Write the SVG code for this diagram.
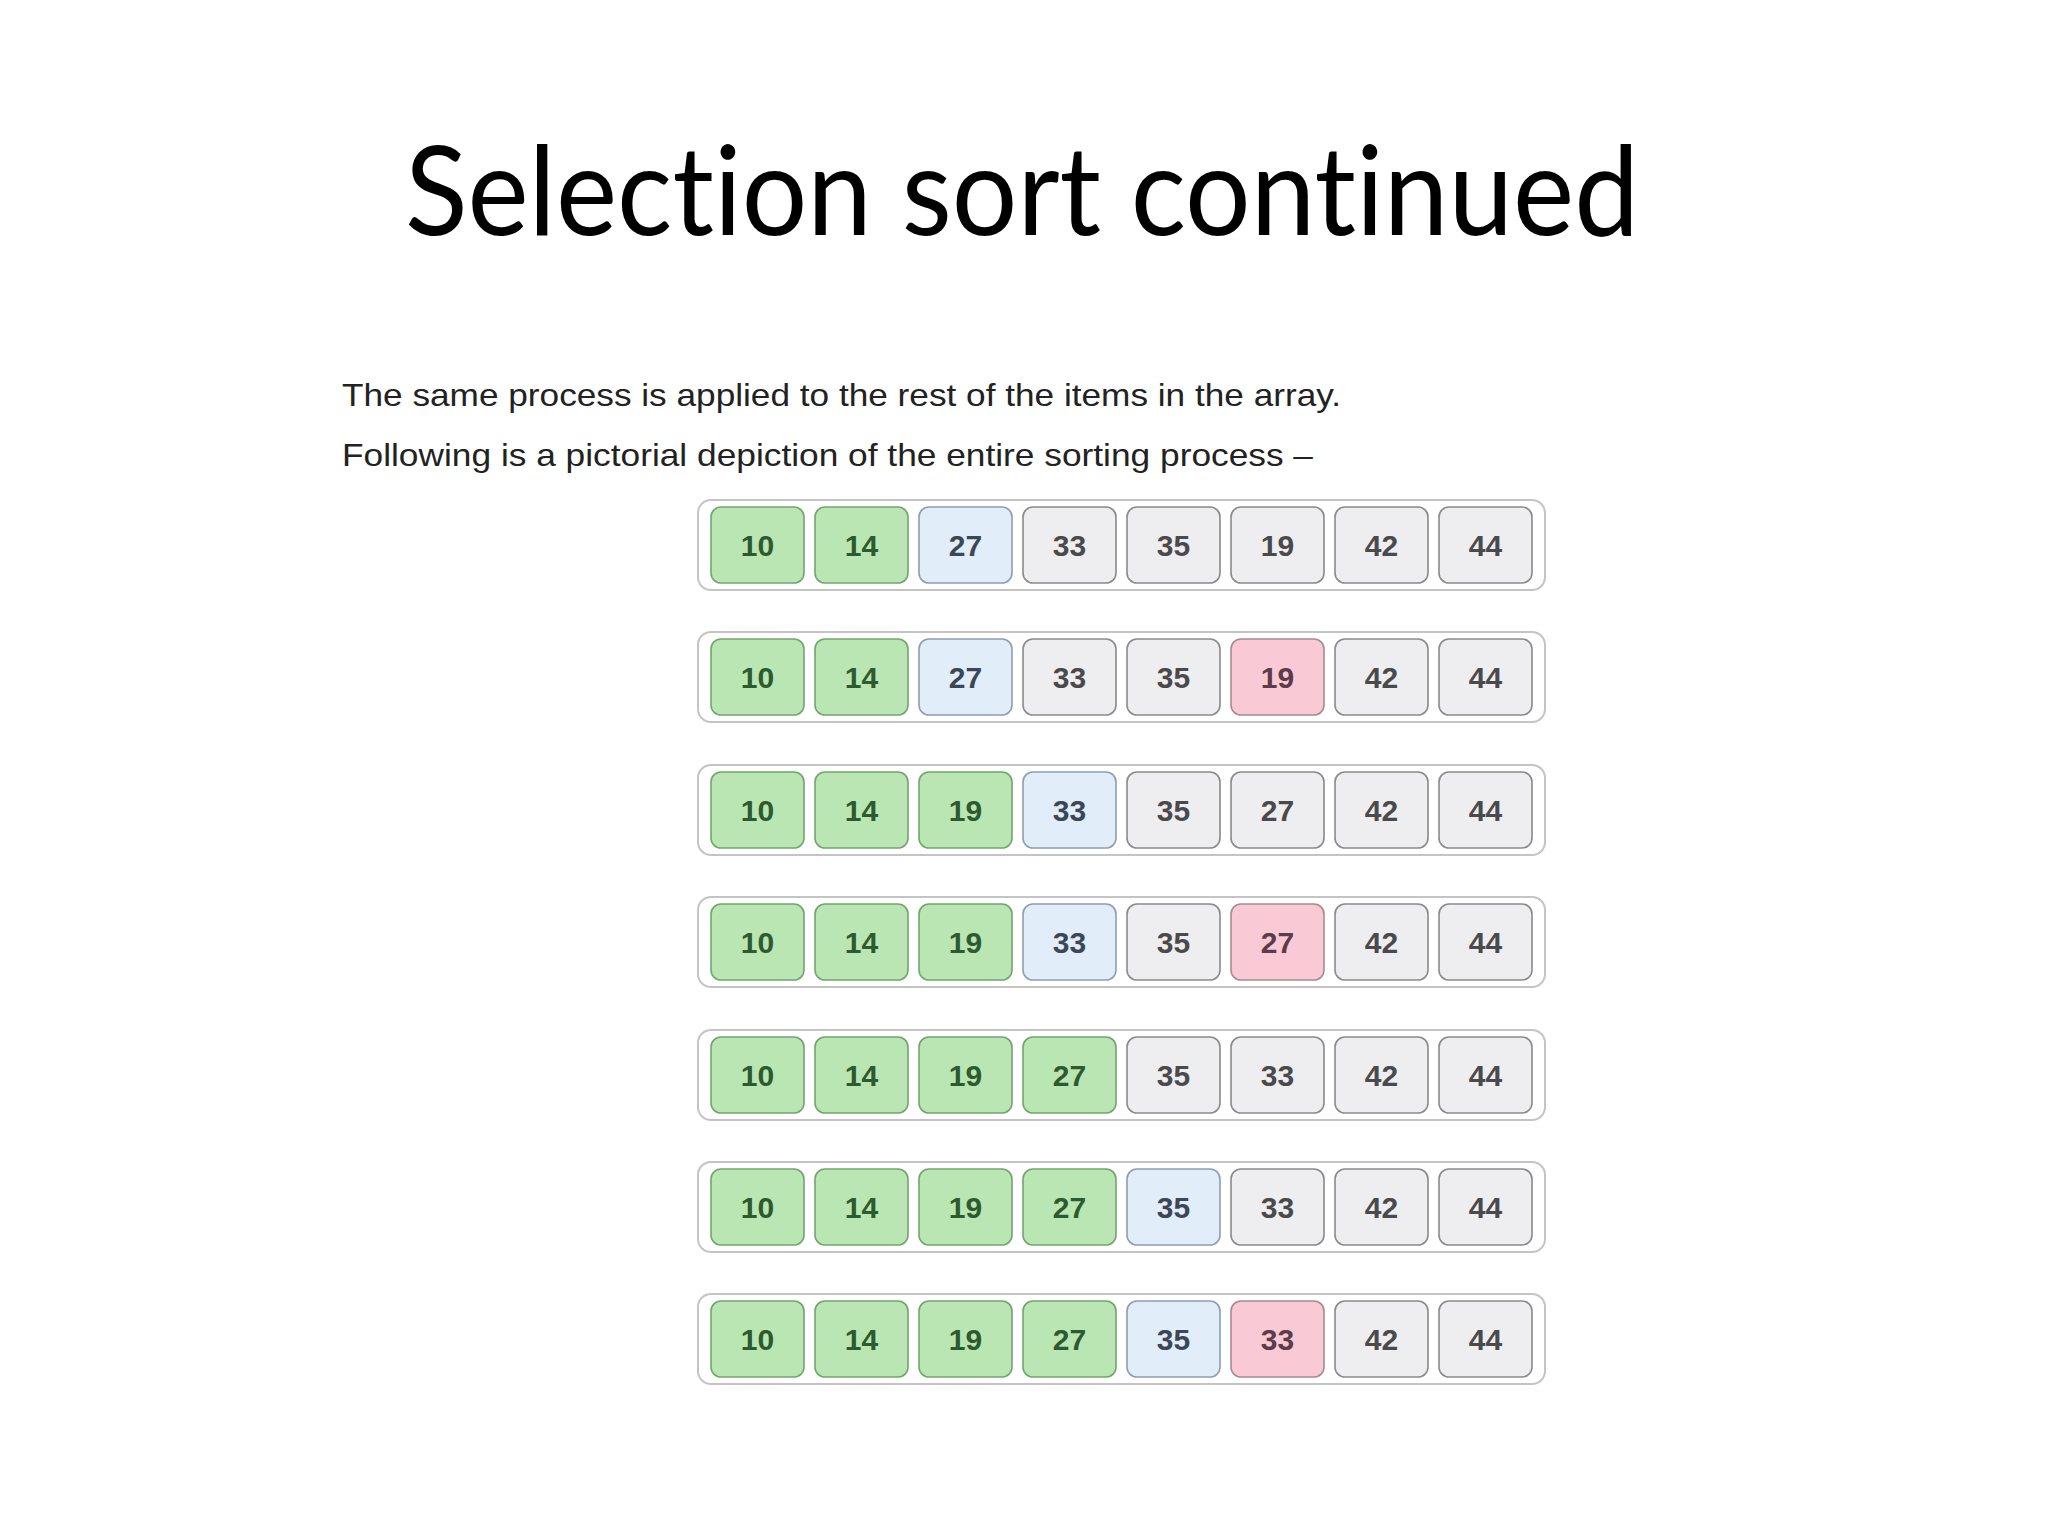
<svg xmlns="http://www.w3.org/2000/svg" width="2048" height="1536" viewBox="0 0 2048 1536">
<style>
.title{font-family:Lato,"Open Sans","Liberation Sans",sans-serif;font-size:124px;fill:#000;font-variant-ligatures:none;font-feature-settings:"liga" 0}
.para{font-family:"Liberation Sans",Arial,sans-serif;font-size:32px;fill:#222}
.row{fill:#fff;stroke:#c4c4c4;stroke-width:2}
.c{stroke-width:1.6}
.g{fill:#b9e6b2;stroke:#74a46f}
.b{fill:#e1edf9;stroke:#8f9db0}
.n{fill:#eeeef0;stroke:#8a8a8a}
.p{fill:#f9c9d5;stroke:#a88a92}
.t{font-family:"Liberation Sans",Arial,sans-serif;font-weight:bold;font-size:30px;text-anchor:middle}
.tg{fill:#2e5a30}
.tb{fill:#3b4756}
.tn{fill:#4a4a4c}
.tp{fill:#5c3c48}
</style>
<rect width="2048" height="1536" fill="#ffffff"/>
<text class="title" x="405" y="235" textLength="1234" lengthAdjust="spacingAndGlyphs">Selection sort continued</text>
<text class="para" x="342" y="406" textLength="999" lengthAdjust="spacingAndGlyphs">The same process is applied to the rest of the items in the array.</text>
<text class="para" x="342" y="466" textLength="971" lengthAdjust="spacingAndGlyphs">Following is a pictorial depiction of the entire sorting process –</text>

<defs>
<g id="rowbox"><rect class="row" x="698" y="0" width="847" height="90" rx="13"/></g>
</defs>

<g id="row1" transform="translate(0,500)">
<use href="#rowbox"/>
<g id="r1c1"><rect class="c g" x="711" y="7" width="93" height="76" rx="10"/><text class="t tg" x="757.5" y="56">10</text></g>
<g id="r1c2"><rect class="c g" x="815" y="7" width="93" height="76" rx="10"/><text class="t tg" x="861.5" y="56">14</text></g>
<g id="r1c3"><rect class="c b" x="919" y="7" width="93" height="76" rx="10"/><text class="t tb" x="965.5" y="56">27</text></g>
<g id="r1c4"><rect class="c n" x="1023" y="7" width="93" height="76" rx="10"/><text class="t tn" x="1069.5" y="56">33</text></g>
<g id="r1c5"><rect class="c n" x="1127" y="7" width="93" height="76" rx="10"/><text class="t tn" x="1173.5" y="56">35</text></g>
<g id="r1c6"><rect class="c n" x="1231" y="7" width="93" height="76" rx="10"/><text class="t tn" x="1277.5" y="56">19</text></g>
<g id="r1c7"><rect class="c n" x="1335" y="7" width="93" height="76" rx="10"/><text class="t tn" x="1381.5" y="56">42</text></g>
<g id="r1c8"><rect class="c n" x="1439" y="7" width="93" height="76" rx="10"/><text class="t tn" x="1485.5" y="56">44</text></g>
</g>

<g id="row2" transform="translate(0,632)">
<use href="#rowbox"/>
<g id="r2c1"><rect class="c g" x="711" y="7" width="93" height="76" rx="10"/><text class="t tg" x="757.5" y="56">10</text></g>
<g id="r2c2"><rect class="c g" x="815" y="7" width="93" height="76" rx="10"/><text class="t tg" x="861.5" y="56">14</text></g>
<g id="r2c3"><rect class="c b" x="919" y="7" width="93" height="76" rx="10"/><text class="t tb" x="965.5" y="56">27</text></g>
<g id="r2c4"><rect class="c n" x="1023" y="7" width="93" height="76" rx="10"/><text class="t tn" x="1069.5" y="56">33</text></g>
<g id="r2c5"><rect class="c n" x="1127" y="7" width="93" height="76" rx="10"/><text class="t tn" x="1173.5" y="56">35</text></g>
<g id="r2c6"><rect class="c p" x="1231" y="7" width="93" height="76" rx="10"/><text class="t tp" x="1277.5" y="56">19</text></g>
<g id="r2c7"><rect class="c n" x="1335" y="7" width="93" height="76" rx="10"/><text class="t tn" x="1381.5" y="56">42</text></g>
<g id="r2c8"><rect class="c n" x="1439" y="7" width="93" height="76" rx="10"/><text class="t tn" x="1485.5" y="56">44</text></g>
</g>

<g id="row3" transform="translate(0,765)">
<use href="#rowbox"/>
<g id="r3c1"><rect class="c g" x="711" y="7" width="93" height="76" rx="10"/><text class="t tg" x="757.5" y="56">10</text></g>
<g id="r3c2"><rect class="c g" x="815" y="7" width="93" height="76" rx="10"/><text class="t tg" x="861.5" y="56">14</text></g>
<g id="r3c3"><rect class="c g" x="919" y="7" width="93" height="76" rx="10"/><text class="t tg" x="965.5" y="56">19</text></g>
<g id="r3c4"><rect class="c b" x="1023" y="7" width="93" height="76" rx="10"/><text class="t tb" x="1069.5" y="56">33</text></g>
<g id="r3c5"><rect class="c n" x="1127" y="7" width="93" height="76" rx="10"/><text class="t tn" x="1173.5" y="56">35</text></g>
<g id="r3c6"><rect class="c n" x="1231" y="7" width="93" height="76" rx="10"/><text class="t tn" x="1277.5" y="56">27</text></g>
<g id="r3c7"><rect class="c n" x="1335" y="7" width="93" height="76" rx="10"/><text class="t tn" x="1381.5" y="56">42</text></g>
<g id="r3c8"><rect class="c n" x="1439" y="7" width="93" height="76" rx="10"/><text class="t tn" x="1485.5" y="56">44</text></g>
</g>

<g id="row4" transform="translate(0,897)">
<use href="#rowbox"/>
<g id="r4c1"><rect class="c g" x="711" y="7" width="93" height="76" rx="10"/><text class="t tg" x="757.5" y="56">10</text></g>
<g id="r4c2"><rect class="c g" x="815" y="7" width="93" height="76" rx="10"/><text class="t tg" x="861.5" y="56">14</text></g>
<g id="r4c3"><rect class="c g" x="919" y="7" width="93" height="76" rx="10"/><text class="t tg" x="965.5" y="56">19</text></g>
<g id="r4c4"><rect class="c b" x="1023" y="7" width="93" height="76" rx="10"/><text class="t tb" x="1069.5" y="56">33</text></g>
<g id="r4c5"><rect class="c n" x="1127" y="7" width="93" height="76" rx="10"/><text class="t tn" x="1173.5" y="56">35</text></g>
<g id="r4c6"><rect class="c p" x="1231" y="7" width="93" height="76" rx="10"/><text class="t tp" x="1277.5" y="56">27</text></g>
<g id="r4c7"><rect class="c n" x="1335" y="7" width="93" height="76" rx="10"/><text class="t tn" x="1381.5" y="56">42</text></g>
<g id="r4c8"><rect class="c n" x="1439" y="7" width="93" height="76" rx="10"/><text class="t tn" x="1485.5" y="56">44</text></g>
</g>

<g id="row5" transform="translate(0,1030)">
<use href="#rowbox"/>
<g id="r5c1"><rect class="c g" x="711" y="7" width="93" height="76" rx="10"/><text class="t tg" x="757.5" y="56">10</text></g>
<g id="r5c2"><rect class="c g" x="815" y="7" width="93" height="76" rx="10"/><text class="t tg" x="861.5" y="56">14</text></g>
<g id="r5c3"><rect class="c g" x="919" y="7" width="93" height="76" rx="10"/><text class="t tg" x="965.5" y="56">19</text></g>
<g id="r5c4"><rect class="c g" x="1023" y="7" width="93" height="76" rx="10"/><text class="t tg" x="1069.5" y="56">27</text></g>
<g id="r5c5"><rect class="c n" x="1127" y="7" width="93" height="76" rx="10"/><text class="t tn" x="1173.5" y="56">35</text></g>
<g id="r5c6"><rect class="c n" x="1231" y="7" width="93" height="76" rx="10"/><text class="t tn" x="1277.5" y="56">33</text></g>
<g id="r5c7"><rect class="c n" x="1335" y="7" width="93" height="76" rx="10"/><text class="t tn" x="1381.5" y="56">42</text></g>
<g id="r5c8"><rect class="c n" x="1439" y="7" width="93" height="76" rx="10"/><text class="t tn" x="1485.5" y="56">44</text></g>
</g>

<g id="row6" transform="translate(0,1162)">
<use href="#rowbox"/>
<g id="r6c1"><rect class="c g" x="711" y="7" width="93" height="76" rx="10"/><text class="t tg" x="757.5" y="56">10</text></g>
<g id="r6c2"><rect class="c g" x="815" y="7" width="93" height="76" rx="10"/><text class="t tg" x="861.5" y="56">14</text></g>
<g id="r6c3"><rect class="c g" x="919" y="7" width="93" height="76" rx="10"/><text class="t tg" x="965.5" y="56">19</text></g>
<g id="r6c4"><rect class="c g" x="1023" y="7" width="93" height="76" rx="10"/><text class="t tg" x="1069.5" y="56">27</text></g>
<g id="r6c5"><rect class="c b" x="1127" y="7" width="93" height="76" rx="10"/><text class="t tb" x="1173.5" y="56">35</text></g>
<g id="r6c6"><rect class="c n" x="1231" y="7" width="93" height="76" rx="10"/><text class="t tn" x="1277.5" y="56">33</text></g>
<g id="r6c7"><rect class="c n" x="1335" y="7" width="93" height="76" rx="10"/><text class="t tn" x="1381.5" y="56">42</text></g>
<g id="r6c8"><rect class="c n" x="1439" y="7" width="93" height="76" rx="10"/><text class="t tn" x="1485.5" y="56">44</text></g>
</g>

<g id="row7" transform="translate(0,1294)">
<use href="#rowbox"/>
<g id="r7c1"><rect class="c g" x="711" y="7" width="93" height="76" rx="10"/><text class="t tg" x="757.5" y="56">10</text></g>
<g id="r7c2"><rect class="c g" x="815" y="7" width="93" height="76" rx="10"/><text class="t tg" x="861.5" y="56">14</text></g>
<g id="r7c3"><rect class="c g" x="919" y="7" width="93" height="76" rx="10"/><text class="t tg" x="965.5" y="56">19</text></g>
<g id="r7c4"><rect class="c g" x="1023" y="7" width="93" height="76" rx="10"/><text class="t tg" x="1069.5" y="56">27</text></g>
<g id="r7c5"><rect class="c b" x="1127" y="7" width="93" height="76" rx="10"/><text class="t tb" x="1173.5" y="56">35</text></g>
<g id="r7c6"><rect class="c p" x="1231" y="7" width="93" height="76" rx="10"/><text class="t tp" x="1277.5" y="56">33</text></g>
<g id="r7c7"><rect class="c n" x="1335" y="7" width="93" height="76" rx="10"/><text class="t tn" x="1381.5" y="56">42</text></g>
<g id="r7c8"><rect class="c n" x="1439" y="7" width="93" height="76" rx="10"/><text class="t tn" x="1485.5" y="56">44</text></g>
</g>
</svg>
